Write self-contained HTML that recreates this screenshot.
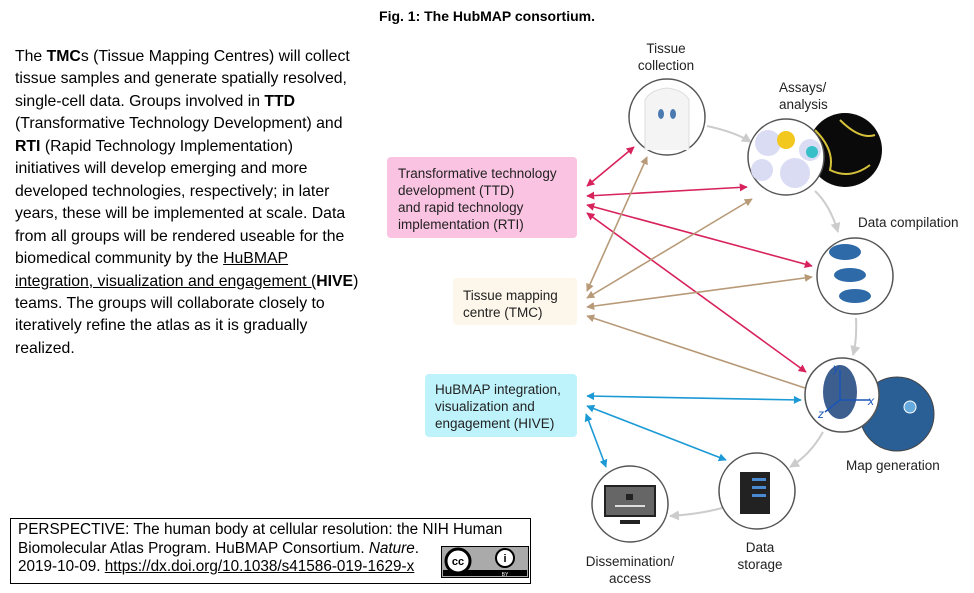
<!DOCTYPE html>
<html><head><meta charset="utf-8"><style>
body{margin:0;width:974px;height:593px;background:#fff;font-family:"Liberation Sans",Arial,sans-serif;position:relative;overflow:hidden}
.t{position:absolute;left:0;width:974px;top:8px;text-align:center;font-weight:bold;font-size:14px}
.p{position:absolute;left:15px;top:46px;font-size:15.8px;line-height:22.46px;color:#000;white-space:nowrap}
.c{position:absolute;left:10px;top:518px;width:521px;height:66px;border:1px solid #000;font-size:15.3px;line-height:18.5px;padding:2px 0 0 7px;box-sizing:border-box;white-space:nowrap}
</style></head><body>
<div class="t">Fig. 1: The HubMAP consortium.</div>
<div class="p">The <b>TMC</b>s (Tissue Mapping Centres) will collect<br>tissue samples and generate spatially resolved,<br>single-cell data. Groups involved in <b>TTD</b><br>(Transformative Technology Development) and<br><b>RTI</b> (Rapid Technology Implementation)<br>initiatives will develop emerging and more<br>developed technologies, respectively; in later<br>years, these will be implemented at scale. Data<br>from all groups will be rendered useable for the<br>biomedical community by the <u>HuBMAP</u><br><u>integration, visualization and engagement (</u><b>HIVE</b>)<br>teams. The groups will collaborate closely to<br>iteratively refine the atlas as it is gradually<br>realized.</div>
<div class="c">PERSPECTIVE: The human body at cellular resolution: the NIH Human<br>Biomolecular Atlas Program. HuBMAP Consortium. <i>Nature</i>.<br>2019-10-09. <u>https://dx.doi.org/10.1038/s41586-019-1629-x</u>
<svg style="position:absolute;left:430px;top:27px" width="88" height="32"><rect x="0.5" y="0.5" width="87" height="31" fill="#aaa" stroke="#000"/><rect x="2" y="24" width="84" height="6" fill="#000"/><circle cx="17" cy="15" r="12" fill="#fff" stroke="#000" stroke-width="3"/><text x="17" y="19" font-size="11" font-weight="bold" text-anchor="middle">cc</text><circle cx="64" cy="12" r="9" fill="#fff" stroke="#000" stroke-width="2"/><text x="64" y="16" font-size="11" font-weight="bold" text-anchor="middle">i</text><text x="64" y="30" font-size="5" fill="#fff" text-anchor="middle">BY</text></svg></div>
<svg style="position:absolute;left:0;top:0" width="974" height="593" font-family="Liberation Sans,Arial,sans-serif">
<defs>
<marker id="mp" viewBox="0 0 10 10" refX="9" refY="5" markerWidth="5" markerHeight="5" orient="auto-start-reverse"><path d="M0,0L10,5L0,10z" fill="#d8225c"/></marker>
<marker id="mt" viewBox="0 0 10 10" refX="9" refY="5" markerWidth="5" markerHeight="5" orient="auto-start-reverse"><path d="M0,0L10,5L0,10z" fill="#b89a78"/></marker>
<marker id="mb" viewBox="0 0 10 10" refX="9" refY="5" markerWidth="5" markerHeight="5" orient="auto-start-reverse"><path d="M0,0L10,5L0,10z" fill="#1c9ad6"/></marker>
<marker id="mg" viewBox="0 0 10 10" refX="9" refY="5" markerWidth="5" markerHeight="5" orient="auto"><path d="M0,0L10,5L0,10z" fill="#ccc"/></marker>
</defs>
<rect x="387" y="157" width="190" height="81" rx="4" fill="#fbc3e2"/>
<rect x="453" y="278" width="124" height="47" rx="4" fill="#fdf6ea"/>
<rect x="425" y="374" width="152" height="63" rx="4" fill="#bff3fb"/>
<g font-size="13.5" fill="#222">
<text x="398" y="178">Transformative technology</text><text x="398" y="195">development (TTD)</text><text x="398" y="212">and rapid technology</text><text x="398" y="229">implementation (RTI)</text>
<text x="463" y="300">Tissue mapping</text><text x="463" y="317">centre (TMC)</text>
<text x="435" y="394">HuBMAP integration,</text><text x="435" y="411">visualization and</text><text x="435" y="428">engagement (HIVE)</text>
<text x="666" y="53" text-anchor="middle">Tissue</text><text x="666" y="70" text-anchor="middle">collection</text>
<text x="779" y="92">Assays/</text><text x="779" y="109">analysis</text>
<text x="858" y="227">Data compilation</text>
<text x="846" y="470">Map generation</text>
<text x="760" y="552" text-anchor="middle">Data</text><text x="760" y="569" text-anchor="middle">storage</text>
<text x="630" y="566" text-anchor="middle">Dissemination/</text><text x="630" y="583" text-anchor="middle">access</text>
</g>
<g fill="none" stroke="#ccc" stroke-width="2">
<path d="M707,126 Q735,132 751,142" marker-end="url(#mg)"/>
<path d="M815,191 Q830,205 838,232" marker-end="url(#mg)"/>
<path d="M856,318 Q857,340 853,355" marker-end="url(#mg)"/>
<path d="M823,432 Q810,455 790,467" marker-end="url(#mg)"/>
<path d="M722,508 Q700,514 670,516" marker-end="url(#mg)"/>
</g>
<g stroke-width="1.6" fill="none">
<g stroke="#d8225c"><line x1="587" y1="186" x2="634" y2="147" marker-start="url(#mp)" marker-end="url(#mp)"/><line x1="587" y1="196" x2="747" y2="187" marker-start="url(#mp)" marker-end="url(#mp)"/><line x1="587" y1="205" x2="812" y2="266" marker-start="url(#mp)" marker-end="url(#mp)"/><line x1="587" y1="213" x2="806" y2="372" marker-start="url(#mp)" marker-end="url(#mp)"/></g>
<g stroke="#b89a78"><line x1="587" y1="291" x2="647" y2="157" marker-start="url(#mt)" marker-end="url(#mt)"/><line x1="587" y1="298" x2="752" y2="199" marker-start="url(#mt)" marker-end="url(#mt)"/><line x1="587" y1="307" x2="812" y2="277" marker-start="url(#mt)" marker-end="url(#mt)"/><line x1="587" y1="316" x2="805" y2="388" marker-start="url(#mt)"/></g>
<g stroke="#1c9ad6"><line x1="587" y1="396" x2="801" y2="400" marker-start="url(#mb)" marker-end="url(#mb)"/><line x1="587" y1="406" x2="726" y2="460" marker-start="url(#mb)" marker-end="url(#mb)"/><line x1="586" y1="414" x2="606" y2="467" marker-start="url(#mb)" marker-end="url(#mb)"/></g>
</g>
<circle cx="845" cy="150" r="37" fill="#0a0a0a"/>
<path d="M815,130 Q835,150 830,170 Q850,180 870,165 M840,120 Q860,140 875,135" stroke="#d6c23a" stroke-width="2" fill="none"/>
<circle cx="897" cy="414" r="37" fill="#2a5f96" stroke="#444"/>
<circle cx="910" cy="407" r="6" fill="#6ad" stroke="#fff"/>
<g stroke="#555" stroke-width="1.5" fill="#fff">
<circle cx="667" cy="117" r="38"/><circle cx="786" cy="157" r="38"/><circle cx="855" cy="276" r="38"/><circle cx="842" cy="395" r="37"/><circle cx="757" cy="491" r="38"/><circle cx="630" cy="504" r="38"/>
</g>
<path d="M645,150 V100 Q650,90 667,88 Q684,90 689,100 V150" stroke="#ddd" fill="#f4f4f4"/>
<ellipse cx="661" cy="114" rx="3" ry="5" fill="#4a7ab0"/><ellipse cx="673" cy="114" rx="3" ry="5" fill="#4a7ab0"/>
<circle cx="768" cy="143" r="13" fill="#d9dcf3"/><circle cx="786" cy="140" r="9" fill="#f2c71e"/><circle cx="810" cy="150" r="11" fill="#d9dcf3"/><circle cx="812" cy="152" r="6" fill="#38c0c9"/><circle cx="795" cy="173" r="15" fill="#d9dcf3"/><circle cx="762" cy="170" r="11" fill="#d9dcf3"/>
<g fill="#2f6aa8"><ellipse cx="845" cy="252" rx="16" ry="8"/><ellipse cx="850" cy="275" rx="16" ry="7"/><ellipse cx="855" cy="296" rx="16" ry="7"/></g>
<ellipse cx="840" cy="392" rx="17" ry="27" fill="#3c5f8f"/>
<g stroke="#1a55b8" stroke-width="1.5"><line x1="840" y1="400" x2="840" y2="370"/><line x1="840" y1="400" x2="870" y2="400"/><line x1="840" y1="400" x2="825" y2="412"/></g>
<g font-size="12" font-style="italic" fill="#1a55b8"><text x="833" y="372">y</text><text x="868" y="405">x</text><text x="818" y="418">z</text></g>
<rect x="740" y="472" width="30" height="42" fill="#222"/><g fill="#4a8ad0"><rect x="752" y="478" width="14" height="3"/><rect x="752" y="486" width="14" height="3"/><rect x="752" y="494" width="14" height="3"/></g>
<rect x="605" y="486" width="50" height="30" fill="#666" stroke="#222" stroke-width="2"/><rect x="620" y="520" width="20" height="4" fill="#222"/><rect x="626" y="494" width="7" height="6" fill="#222"/><rect x="615" y="505" width="30" height="2" fill="#ddd"/>
</svg>
</body></html>
